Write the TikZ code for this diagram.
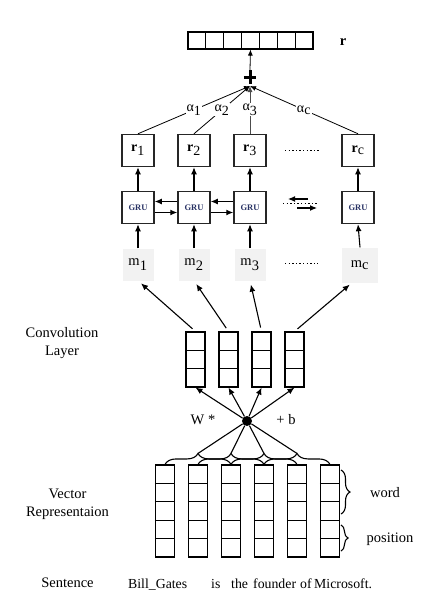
\documentclass[tikz,border=0pt]{standalone}
\usepackage{fontspec}
\setmainfont{Liberation Serif}
\usetikzlibrary{arrows.meta,decorations.pathreplacing,calc}
\definecolor{mgrey}{RGB}{242,242,242}
\definecolor{gruc}{RGB}{40,50,100}
\newcommand{\lsub}[1]{$_{\textrm{#1}}$}
\begin{document}
\begin{tikzpicture}[x=1pt,y=-1pt,
  lbl/.style={font=\fontsize{14.5}{18}\selectfont, align=center, inner sep=0pt},
  wlbl/.style={font=\fontsize{13.8}{18}\selectfont, inner sep=0pt, anchor=base west},
  cellbox/.style={draw, line width=1.1pt, minimum width=19pt, inner sep=0pt},
  rbox/.style={draw=black!85, line width=1.5pt, minimum width=32pt, minimum height=32pt, inner sep=0pt, font=\fontsize{14}{16}\selectfont},
  grubox/.style={rbox, font=\fontsize{8.5}{9}\selectfont\bfseries, text=gruc},
  mbox/.style={fill=mgrey, minimum width=31pt, minimum height=32pt, inner sep=0pt, font=\fontsize{14.5}{16}\selectfont},
  arr/.style={-{Latex[length=7pt,width=6pt]}, line width=1.1pt},
  thinarr/.style={-{Latex[length=6pt,width=5pt]}, line width=0.8pt},
  alab/.style={fill=white, inner sep=1pt, font=\fontsize{14}{16}\selectfont},
  dotline/.style={line width=1pt, dash pattern=on 1.4pt off 2.2pt},
  brc/.style={decorate, decoration={brace, amplitude=#1}, line width=1.1pt}
]
\useasboundingbox (0,0) rectangle (435,603);

% top vector r
\node[cellbox, minimum width=125pt, minimum height=17pt] (rvec) at (250.5,40.5) {};
\foreach \k in {1,...,6}
  \draw[line width=1.1pt] ($(rvec.north west)!\k/7!(rvec.north east)$) -- ($(rvec.south west)!\k/7!(rvec.south east)$);
\node[lbl, font=\fontsize{14.5}{16}\selectfont\bfseries] (rlab) at (343,42) {r};

% plus (aggregation)
\node[inner sep=0pt, minimum width=12pt, minimum height=14pt] (plus) at (250,77) {};
\draw[line width=3pt] (plus.west) -- (plus.east);
\draw[line width=3pt] (plus.north) -- (plus.south);
\coordinate (sum) at (250,86);
\draw[thinarr] (plus.north) -- (rvec.south);

% r boxes
\node[rbox] (r1) at (138,150.5) {\textbf{r}\lsub{1}};
\node[rbox] (r2) at (194,150.5) {\textbf{r}\lsub{2}};
\node[rbox] (r3) at (250,150.5) {\textbf{r}\lsub{3}};
\node[rbox] (rc) at (358,150.5) {\textbf{r}\lsub{c}};

% GRU boxes
\node[grubox] (g1) at (138,207.5) {GRU};
\node[grubox] (g2) at (194,207.5) {GRU};
\node[grubox] (g3) at (250,207.5) {GRU};
\node[grubox] (gc) at (358,207.5) {GRU};

% m boxes
\node[mbox] (m1) at (138,264.5) {m\lsub{1}};
\node[mbox] (m2) at (194,264.5) {m\lsub{2}};
\node[mbox] (m3) at (250,264.5) {m\lsub{3}};
\node[mbox, minimum width=36pt, minimum height=35pt] (mc) at (360,265) {m\lsub{c}};

% attention lines
\draw[thinarr] (r1.north) -- node[alab, pos=0.5] {α\lsub{1}} (sum);
\draw[thinarr] (r2.north) -- node[alab, pos=0.5] {α\lsub{2}} (sum);
\draw[thinarr, black!70] (r3.north) -- node[alab, pos=0.5, text=black] {α\lsub{3}} (sum);
\draw[thinarr] (rc.north) -- node[alab, pos=0.5] {α\lsub{c}} (sum);

% vertical arrows
\foreach \c in {1,2,3,c} {
  \draw[arr] (g\c.north) -- (r\c.south);
  \draw[arr] (m\c.north) -- (g\c.south);
}

% GRU bidirectional arrows
\draw[arr] ($(g2.west)+(0,-6)$) -- ($(g1.east)+(0,-6)$);
\draw[arr] ($(g1.east)+(0,5)$) -- ($(g2.west)+(0,5)$);
\draw[arr] ($(g3.west)+(0,-6)$) -- ($(g2.east)+(0,-6)$);
\draw[arr] ($(g2.east)+(0,5)$) -- ($(g3.west)+(0,5)$);
\coordinate (d1) at (283,203); \coordinate (d2) at (318,203);
\draw[dotline] (d1) -- (d2);
\coordinate (la) at (308,199); \coordinate (lb) at (288,199);
\coordinate (ra) at (297,208); \coordinate (rb) at (317,208);
\draw[arr] (la) -- (lb);
\draw[arr] (ra) -- (rb);

% ellipsis dots
\coordinate (e1) at (285,150); \coordinate (e2) at (320,150);
\draw[dotline] (e1) -- (e2);
\coordinate (f1) at (285,263); \coordinate (f2) at (318,263);
\draw[dotline] (f1) -- (f2);

% convolution layer
\foreach \i/\x in {1/195.5,2/228.5,3/261.5,4/294.5} {
  \node[cellbox, minimum height=55pt] (c\i) at (\x,359.5) {};
  \foreach \k in {1,2}
    \draw[line width=1.1pt] ($(c\i.north west)!\k/3!(c\i.south west)$) -- ($(c\i.north east)!\k/3!(c\i.south east)$);
}
\node[lbl] (convlab) at (62,343) {Convolution\\Layer};

% conv -> m arrows
\draw[arr, shorten <=4pt, shorten >=4pt] (c1.north) -- (m1.south);
\draw[arr, shorten <=4pt, shorten >=4pt] (c2.north) -- (m2.south);
\draw[arr, shorten <=4pt, shorten >=4pt] (c3.north) -- (m3.south);
\draw[arr, shorten <=4pt, shorten >=3pt] (c4.north) -- ([xshift=-8pt]mc.south);

% dot and W*, +b
\node[circle, fill=black, inner sep=0pt, minimum size=10pt] (dot) at (247,421) {};
\node[lbl] (wlab) at (203,420) {W *};
\node[lbl] (blab) at (286,420) {+ b};
\foreach \i in {1,...,4}
  \draw[arr] (dot) -- (c\i.south);

% vector representation
\foreach \i in {1,...,6} {
  \node[cellbox, minimum height=92pt] (v\i) at ({165+33*(\i-1)},511) {};
  \foreach \k in {1,...,4}
    \draw[line width=1.1pt] ($(v\i.north west)!\k/5!(v\i.south west)$) -- ($(v\i.north east)!\k/5!(v\i.south east)$);
}
\node[lbl] (veclab) at (67.5,504) {Vector\\Representaion};

% filter windows
\foreach \i/\j/\t in {1/3/1,2/4/2,3/5/3,4/6/4} {
  \draw[brc=11pt] (v\i.north) -- (v\j.north);
  \coordinate (b\t) at ($(v\i.north)!0.5!(v\j.north)+(0,-11)$);
  \draw[line width=1.1pt] (dot) -- (b\t);
}

% word / position braces
\coordinate (wb1) at (341,470); \coordinate (wb2) at (341,514);
\coordinate (pb1) at (341,525); \coordinate (pb2) at (341,551);
\draw[brc=9pt] (wb1) -- (wb2);
\draw[brc=7pt] (pb1) -- (pb2);
\node[lbl] (word) at (385,493) {word};
\node[lbl] (pos) at (390,539) {position};

% sentence
\node[lbl] (sent) at (67.5,583) {Sentence};
\node[wlbl] (w1) at (128,588) {Bill\_Gates};
\node[wlbl] (w2) at (211,588) {is};
\node[wlbl] (w3) at (231,588) {the};
\node[wlbl] (w4) at (253,588) {founder};
\node[wlbl] (w5) at (300,588) {of};
\node[wlbl] (w6) at (314,588) {Microsoft.};
\end{tikzpicture}
\end{document}
